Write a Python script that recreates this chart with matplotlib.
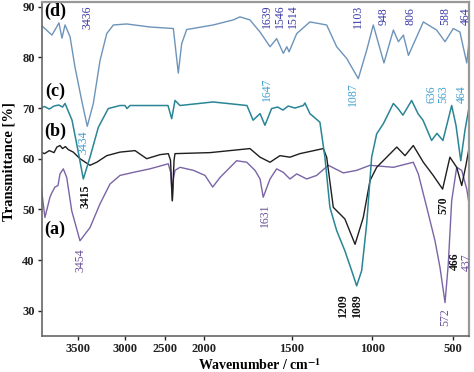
import numpy as np
import matplotlib
matplotlib.use("Agg")
import matplotlib.pyplot as plt

plt.rcParams["font.family"] = ["Liberation Serif", "DejaVu Serif"]
plt.rcParams["mathtext.fontset"] = "stix"

# --- spectra (wavenumber in cm-1, transmittance in %) ---
a_wn = [3898, 3846, 3793, 3772, 3740, 3708, 3687, 3652, 3616, 3563, 3476, 3370, 3264,
        3159, 3053, 2896, 2688, 2458, 2428, 2407, 2392, 2373, 2309, 2139, 1996, 1952,
        1910, 1815, 1757, 1710, 1681, 1663, 1624, 1586, 1548, 1510, 1469, 1407, 1345,
        1273, 1180, 1097, 1014, 870, 747, 716, 664, 613, 582, 551, 531, 510, 479, 448,
        417, 400]
a_T = [56.3, 48.4, 52.4, 53.3, 54.4, 54.7, 57.0, 58.0, 56.3, 49.7, 43.8, 46.4, 51.1,
       55.0, 56.7, 57.3, 58.0, 59.0, 57.3, 51.7, 56.1, 57.7, 58.3, 57.7, 56.7, 54.4,
       56.3, 59.6, 59.3, 57.7, 56.0, 52.4, 56.0, 58.0, 57.3, 56.0, 57.0, 56.0, 56.7,
       58.7, 57.2, 57.7, 58.7, 58.3, 59.3, 57.0, 50.4, 43.8, 38.5, 31.6, 39.2, 51.7,
       58.3, 57.7, 54.0, 50.5]

b_wn = [3888, 3850, 3800, 3750, 3720, 3687, 3660, 3630, 3600, 3547, 3476, 3370, 3299,
        3193, 3053, 2875, 2729, 2562, 2458, 2430, 2407, 2385, 2373, 1967, 1739, 1681,
        1624, 1567, 1510, 1449, 1304, 1283, 1242, 1170, 1107, 1056, 1014, 973, 911, 849,
        798, 747, 685, 624, 566, 521, 479, 448, 422, 400]
b_T = [61.3, 61.0, 61.6, 61.2, 62.3, 62.6, 62.0, 62.4, 61.8, 61.3, 60.0, 58.7, 59.3,
       60.6, 61.3, 61.6, 60.0, 60.8, 61.0, 59.7, 51.7, 59.7, 61.0, 61.2, 62.0, 60.3,
       59.3, 60.6, 60.3, 61.0, 62.0, 60.3, 50.4, 48.1, 43.1, 48.4, 55.7, 58.3, 60.3,
       62.3, 60.6, 62.6, 59.3, 56.7, 54.0, 60.3, 58.3, 54.7, 58.7, 62.6]

c_wn = [3888, 3850, 3800, 3750, 3700, 3660, 3634, 3560, 3497, 3441, 3370, 3282, 3177,
        3053, 3000, 2975, 2938, 2462, 2415, 2373, 2309, 1950, 1756, 1721, 1681, 1653,
        1615, 1580, 1550, 1520, 1480, 1428, 1418, 1387, 1325, 1294, 1263, 1221, 1170,
        1128, 1097, 1066, 1035, 1004, 973, 932, 870, 841, 811, 757, 718, 687, 634, 601,
        564, 510, 483, 454, 428, 401]
c_T = [70.1, 70.3, 69.8, 70.4, 70.6, 70.2, 70.9, 67.6, 61.6, 56.0, 60.3, 66.2, 69.9,
       70.5, 70.5, 69.9, 70.5, 70.5, 67.9, 71.5, 70.5, 71.2, 70.5, 67.6, 68.9, 66.6,
       69.9, 70.2, 69.6, 70.4, 70.0, 70.5, 71.0, 68.9, 67.2, 60.3, 50.4, 45.8, 41.8,
       37.9, 34.9, 37.9, 47.1, 60.3, 64.9, 66.9, 70.9, 69.9, 68.6, 71.5, 68.9, 67.6,
       63.6, 65.0, 63.6, 70.5, 66.5, 59.6, 65.6, 70.5]

d_wn = [3888, 3772, 3698, 3666, 3634, 3581, 3529, 3458, 3399, 3335, 3264, 3193, 3123,
        2979, 2688, 2394, 2331, 2288, 2224, 1949, 1834, 1796, 1739, 1681, 1624, 1586,
        1548, 1528, 1515, 1469, 1387, 1283, 1221, 1159, 1087, 1035, 994, 928, 870, 839,
        808, 777, 685, 603, 551, 500, 459, 417, 400]
d_T = [86.4, 84.4, 86.8, 83.8, 86.4, 84.1, 78.1, 71.5, 66.4, 70.9, 79.4, 84.7, 86.4,
       86.6, 86.0, 85.7, 76.9, 82.7, 85.5, 86.4, 87.4, 88.0, 87.4, 85.0, 82.1, 83.7,
       80.8, 82.1, 81.1, 84.7, 87.0, 86.4, 82.1, 79.8, 75.8, 81.4, 86.4, 78.9, 85.4,
       83.1, 84.4, 80.4, 87.0, 85.4, 83.1, 85.7, 85.0, 78.9, 84.1]

# peak annotations: (text, wavenumber position, transmittance position)
d_peaks = [("3436", 3398, 87.9), ("1639", 1640, 88.1), ("1546", 1565, 88.1),
           ("1514", 1494, 88.1), ("1103", 1087, 88.1), ("948", 928, 88.1),
           ("806", 767, 88.1), ("588", 547, 88.1), ("464", 422, 88.1)]
c_peaks = [("3434", 3439, 63.3), ("1647", 1643, 73.7), ("1087", 1118, 72.8),
           ("636", 634, 72.7), ("563", 562, 72.7), ("464", 448, 72.7)]
b_peaks = [("3415", 3412, 52.5), ("1209", 1180, 30.9), ("1089", 1097, 30.9),
           ("570", 562, 50.9), ("466", 490, 39.8)]
a_peaks = [("3454", 3476, 40.0), ("1631", 1653, 48.8), ("572", 551, 28.8),
           ("437", 417, 39.6)]

xticks = [3500, 3000, 2500, 2000, 1500, 1000, 500]
yticks = [30, 40, 50, 60, 70, 80, 90]

# the instrument axis is stretched below 2000 cm-1; breakpoints measured on the reference
scale_wn = np.array([0, 400, 500, 1000, 1500, 2000, 2500, 3000, 3500, 3880, 5000])
scale_px = np.array([534.3, 469.5, 453.3, 372.3, 291.7, 204.3, 165, 125, 77.7, 41.7, -64.0])


def fwd(w):
    return -np.interp(w, scale_wn, scale_px)


def inv(u):
    return np.interp(u, -scale_px, scale_wn)


fig = plt.figure(figsize=(4.74, 3.72), dpi=100)
ax = fig.add_axes([0.088, 0.0968, 0.9025, 0.8987])
ax.set_xscale("function", functions=(fwd, inv))

col_a, col_b, col_c, col_d = "#7a64a6", "#1e1e1e", "#2a8595", "#6c94ba"
ax.plot(a_wn, a_T, color=col_a, lw=1.0)
ax.plot(b_wn, b_T, color=col_b, lw=1.0)
ax.plot(c_wn, c_T, color=col_c, lw=1.1)
ax.plot(d_wn, d_T, color=col_d, lw=1.0)

for peaks, color, weight in [(d_peaks, "#3838a8", "normal"), (c_peaks, "#3f9fd2", "normal"),
                             (b_peaks, "#111111", "bold"), (a_peaks, "#6a4f99", "normal")]:
    for txt, x, y in peaks:
        ax.text(x, y, txt, rotation=90, ha="center", va="center", fontsize=8.5,
                color=color, fontweight=weight)

for lab, y in [("(d)", 89.0), ("(c)", 73.3), ("(b)", 65.4), ("(a)", 46.0)]:
    ax.text(3740, y, lab, ha="center", va="center", fontsize=13, fontweight="bold")

ax.set_xlim(3880, 400)
ax.set_ylim(25, 91)
ax.set_xticks(xticks)
ax.set_xticklabels([str(t) for t in xticks])
ax.set_yticks(yticks)
ax.minorticks_off()
ax.tick_params(direction="out", length=3, width=1.0, labelsize=9, pad=2,
               colors="#222222")
for lbl in ax.get_xticklabels() + ax.get_yticklabels():
    lbl.set_fontweight("bold")
for side in ["top", "right"]:
    ax.spines[side].set_color("#999999")
    ax.spines[side].set_linewidth(1.6)
for side in ["left", "bottom"]:
    ax.spines[side].set_color("#666666")
    ax.spines[side].set_linewidth(1.2)

ax.set_xlabel(r"Wavenumber / cm$^{\mathbf{-1}}$", fontsize=10, fontweight="bold")
ax.xaxis.set_label_coords(0.51, -0.064)
fig.text(0.018, 0.565, "Transmittance [%]", rotation=90, ha="center", va="center",
         fontsize=10.5, fontweight="bold")

fig.savefig("out.png", dpi=100)
